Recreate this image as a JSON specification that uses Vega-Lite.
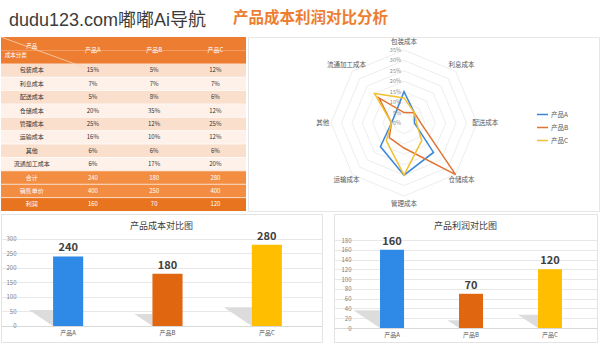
{
  "$schema": "https://vega.github.io/schema/vega-lite/v6.json",
  "padding": {"left": 0, "top": 10, "right": 0, "bottom": 0},
  "background": "white",
  "config": {"font": "Noto Sans CJK SC", "view": {"stroke": "#e3e3e3"}},
  "align": "none",
  "spacing": 1,
  "resolve": {"scale": {"color": "independent", "fill": "independent", "size": "independent"}, "legend": {"color": "independent", "fill": "independent"}},
  "vconcat": [
    {
      "resolve": {"scale": {"color": "independent", "fill": "independent"}, "legend": {"color": "independent", "fill": "independent"}},
      "hconcat": [
        {
          "width": 245,
          "height": 174,
          "view": {"stroke": null},
          "title": {"text": "dudu123.com嘟嘟Ai导航", "anchor": "start", "frame": "group", "dx": 8, "offset": -7, "baseline": "alphabetic", "font": "Liberation Sans, Noto Sans CJK SC", "fontSize": 18, "fontWeight": "normal", "color": "#3b3b3b"},
          "layer": [
            {
              "data": {"values": [
                {"r": "h1", "t": "head"}, {"r": "h2", "t": "head"},
                {"r": "包装成本", "t": "a"}, {"r": "利息成本", "t": "b"}, {"r": "配送成本", "t": "a"}, {"r": "仓储成本", "t": "b"},
                {"r": "管理成本", "t": "a"}, {"r": "运输成本", "t": "b"}, {"r": "其他", "t": "a"}, {"r": "流通加工成本", "t": "b"},
                {"r": "合计", "t": "tot"}, {"r": "销售单价", "t": "tot"}, {"r": "利润", "t": "pro"}
              ]},
              "mark": {"type": "rect"},
              "encoding": {
                "y": {"field": "r", "type": "nominal", "scale": {"type": "band", "domain": ["h1","h2","包装成本","利息成本","配送成本","仓储成本","管理成本","运输成本","其他","流通加工成本","合计","销售单价","利润"], "paddingInner": 0, "paddingOuter": 0}, "axis": null},
                "fill": {"field": "t", "type": "nominal", "scale": {"domain": ["head","a","b","tot","pro"], "range": ["#ED7D31","#FADFCC","#FDF1E9","#F28D41","#E9741F"]}, "legend": null}
              }
            },
            {
              "data": {"values": [
                {"r": "利息成本"}, {"r": "配送成本"}, {"r": "仓储成本"}, {"r": "管理成本"}, {"r": "运输成本"}, {"r": "其他"}, {"r": "流通加工成本"}, {"r": "合计"}, {"r": "销售单价"}, {"r": "利润"}
              ]},
              "mark": {"type": "rule", "color": "#ffffff", "strokeWidth": 0.8, "opacity": 0.8},
              "encoding": {
                "y": {"field": "r", "type": "nominal", "bandPosition": 0, "scale": {"type": "band", "domain": ["h1","h2","包装成本","利息成本","配送成本","仓储成本","管理成本","运输成本","其他","流通加工成本","合计","销售单价","利润"], "paddingInner": 0, "paddingOuter": 0}, "axis": null}
              }
            },
            {
              "data": {"values": [{"c": "lab", "c2": "A", "r": "h1", "r2": "包装成本"}]},
              "mark": {"type": "rule", "color": "#fbd3b8", "strokeWidth": 0.8},
              "encoding": {
                "x": {"field": "c", "type": "nominal", "bandPosition": 0, "scale": {"type": "band", "domain": ["lab","A","B","C"], "paddingInner": 0, "paddingOuter": 0}, "axis": null},
                "x2": {"field": "c2"},
                "y": {"field": "r", "type": "nominal", "bandPosition": 0, "scale": {"type": "band", "domain": ["h1","h2","包装成本","利息成本","配送成本","仓储成本","管理成本","运输成本","其他","流通加工成本","合计","销售单价","利润"], "paddingInner": 0, "paddingOuter": 0}, "axis": null},
                "y2": {"field": "r2"}
              }
            },
            {
              "data": {"values": [{"c": "A", "r": "h1", "s": "产品A"}, {"c": "B", "r": "h1", "s": "产品B"}, {"c": "C", "r": "h1", "s": "产品C"}]},
              "mark": {"type": "text", "fontSize": 6, "color": "#ffffff", "baseline": "middle"},
              "encoding": {
                "x": {"field": "c", "type": "nominal", "scale": {"type": "band", "domain": ["lab","A","B","C"], "paddingInner": 0, "paddingOuter": 0}, "axis": null},
                "y": {"field": "r", "type": "nominal", "bandPosition": 1, "scale": {"type": "band", "domain": ["h1","h2","包装成本","利息成本","配送成本","仓储成本","管理成本","运输成本","其他","流通加工成本","合计","销售单价","利润"], "paddingInner": 0, "paddingOuter": 0}, "axis": null},
                "text": {"field": "s"}
              }
            },
            {
              "data": {"values": [{"c": "lab", "r": "h1", "s": "产品"}]},
              "mark": {"type": "text", "fontSize": 5.5, "color": "#ffffff", "baseline": "middle", "dy": 2},
              "encoding": {
                "x": {"field": "c", "type": "nominal", "scale": {"type": "band", "domain": ["lab","A","B","C"], "paddingInner": 0, "paddingOuter": 0}, "axis": null},
                "y": {"field": "r", "type": "nominal", "scale": {"type": "band", "domain": ["h1","h2","包装成本","利息成本","配送成本","仓储成本","管理成本","运输成本","其他","流通加工成本","合计","销售单价","利润"], "paddingInner": 0, "paddingOuter": 0}, "axis": null},
                "text": {"field": "s"}
              }
            },
            {
              "data": {"values": [{"c": "lab", "r": "h2", "s": "成本分类"}]},
              "mark": {"type": "text", "fontSize": 5.5, "color": "#ffffff", "baseline": "middle", "dy": -2, "dx": -16},
              "encoding": {
                "x": {"field": "c", "type": "nominal", "scale": {"type": "band", "domain": ["lab","A","B","C"], "paddingInner": 0, "paddingOuter": 0}, "axis": null},
                "y": {"field": "r", "type": "nominal", "scale": {"type": "band", "domain": ["h1","h2","包装成本","利息成本","配送成本","仓储成本","管理成本","运输成本","其他","流通加工成本","合计","销售单价","利润"], "paddingInner": 0, "paddingOuter": 0}, "axis": null},
                "text": {"field": "s"}
              }
            },
            {
              "data": {"values": [
                {"r": "包装成本", "c": "lab", "s": "包装成本"}, {"r": "包装成本", "c": "A", "s": "15%"}, {"r": "包装成本", "c": "B", "s": "5%"}, {"r": "包装成本", "c": "C", "s": "12%"},
                {"r": "利息成本", "c": "lab", "s": "利息成本"}, {"r": "利息成本", "c": "A", "s": "7%"}, {"r": "利息成本", "c": "B", "s": "7%"}, {"r": "利息成本", "c": "C", "s": "7%"},
                {"r": "配送成本", "c": "lab", "s": "配送成本"}, {"r": "配送成本", "c": "A", "s": "5%"}, {"r": "配送成本", "c": "B", "s": "8%"}, {"r": "配送成本", "c": "C", "s": "6%"},
                {"r": "仓储成本", "c": "lab", "s": "仓储成本"}, {"r": "仓储成本", "c": "A", "s": "20%"}, {"r": "仓储成本", "c": "B", "s": "35%"}, {"r": "仓储成本", "c": "C", "s": "12%"},
                {"r": "管理成本", "c": "lab", "s": "管理成本"}, {"r": "管理成本", "c": "A", "s": "25%"}, {"r": "管理成本", "c": "B", "s": "12%"}, {"r": "管理成本", "c": "C", "s": "25%"},
                {"r": "运输成本", "c": "lab", "s": "运输成本"}, {"r": "运输成本", "c": "A", "s": "16%"}, {"r": "运输成本", "c": "B", "s": "10%"}, {"r": "运输成本", "c": "C", "s": "12%"},
                {"r": "其他", "c": "lab", "s": "其他"}, {"r": "其他", "c": "A", "s": "6%"}, {"r": "其他", "c": "B", "s": "6%"}, {"r": "其他", "c": "C", "s": "6%"},
                {"r": "流通加工成本", "c": "lab", "s": "流通加工成本"}, {"r": "流通加工成本", "c": "A", "s": "6%"}, {"r": "流通加工成本", "c": "B", "s": "17%"}, {"r": "流通加工成本", "c": "C", "s": "20%"}
              ]},
              "mark": {"type": "text", "fontSize": 6, "baseline": "middle", "color": "#333333"},
              "encoding": {
                "x": {"field": "c", "type": "nominal", "scale": {"type": "band", "domain": ["lab","A","B","C"], "paddingInner": 0, "paddingOuter": 0}, "axis": null},
                "y": {"field": "r", "type": "nominal", "scale": {"type": "band", "domain": ["h1","h2","包装成本","利息成本","配送成本","仓储成本","管理成本","运输成本","其他","流通加工成本","合计","销售单价","利润"], "paddingInner": 0, "paddingOuter": 0}, "axis": null},
                "text": {"field": "s"}
              }
            },
            {
              "data": {"values": [
                {"r": "合计", "c": "lab", "s": "合计"}, {"r": "合计", "c": "A", "s": "240"}, {"r": "合计", "c": "B", "s": "180"}, {"r": "合计", "c": "C", "s": "280"},
                {"r": "销售单价", "c": "lab", "s": "销售单价"}, {"r": "销售单价", "c": "A", "s": "400"}, {"r": "销售单价", "c": "B", "s": "250"}, {"r": "销售单价", "c": "C", "s": "400"},
                {"r": "利润", "c": "lab", "s": "利润"}, {"r": "利润", "c": "A", "s": "160"}, {"r": "利润", "c": "B", "s": "70"}, {"r": "利润", "c": "C", "s": "120"}
              ]},
              "mark": {"type": "text", "fontSize": 6, "baseline": "middle", "color": "#ffffff"},
              "encoding": {
                "x": {"field": "c", "type": "nominal", "scale": {"type": "band", "domain": ["lab","A","B","C"], "paddingInner": 0, "paddingOuter": 0}, "axis": null},
                "y": {"field": "r", "type": "nominal", "scale": {"type": "band", "domain": ["h1","h2","包装成本","利息成本","配送成本","仓储成本","管理成本","运输成本","其他","流通加工成本","合计","销售单价","利润"], "paddingInner": 0, "paddingOuter": 0}, "axis": null},
                "text": {"field": "s"}
              }
            }
          ]
        },
        {
          "width": 351,
          "height": 174,
          "view": {"stroke": "#e6e6e6"},
          "title": {"text": "产品成本利润对比分析", "anchor": "start", "frame": "group", "dx": -15, "offset": -1, "baseline": "alphabetic", "fontSize": 15.5, "fontWeight": "bold", "color": "#ED7D31"},
          "layer": [
            {
              "data": {"values": [
                {"lv": 5, "k": [0,1,2,3,4,5,6,7]}, {"lv": 10, "k": [0,1,2,3,4,5,6,7]}, {"lv": 15, "k": [0,1,2,3,4,5,6,7]},
                {"lv": 20, "k": [0,1,2,3,4,5,6,7]}, {"lv": 25, "k": [0,1,2,3,4,5,6,7]}, {"lv": 30, "k": [0,1,2,3,4,5,6,7]}, {"lv": 35, "k": [0,1,2,3,4,5,6,7]}
              ]},
              "transform": [
                {"flatten": ["k"]},
                {"calculate": "datum.lv*sin(datum.k*PI/4)", "as": "x"},
                {"calculate": "datum.lv*cos(datum.k*PI/4)", "as": "y"}
              ],
              "mark": {"type": "line", "interpolate": "linear-closed", "color": "#e8e8e8", "strokeWidth": 0.8},
              "encoding": {
                "x": {"field": "x", "type": "quantitative", "scale": {"domain": [-74.8, 93.5], "nice": false, "zero": false}, "axis": null},
                "y": {"field": "y", "type": "quantitative", "scale": {"domain": [-42.2, 41.2], "nice": false, "zero": false}, "axis": null},
                "detail": {"field": "lv"},
                "order": {"field": "k"}
              }
            },
            {
              "data": {"values": [
                {"cat": "包装成本", "i": 0, "p": "产品A", "v": 15}, {"cat": "利息成本", "i": 1, "p": "产品A", "v": 7}, {"cat": "配送成本", "i": 2, "p": "产品A", "v": 5}, {"cat": "仓储成本", "i": 3, "p": "产品A", "v": 20},
                {"cat": "管理成本", "i": 4, "p": "产品A", "v": 25}, {"cat": "运输成本", "i": 5, "p": "产品A", "v": 16}, {"cat": "其他", "i": 6, "p": "产品A", "v": 6}, {"cat": "流通加工成本", "i": 7, "p": "产品A", "v": 6},
                {"cat": "包装成本", "i": 0, "p": "产品B", "v": 5}, {"cat": "利息成本", "i": 1, "p": "产品B", "v": 7}, {"cat": "配送成本", "i": 2, "p": "产品B", "v": 8}, {"cat": "仓储成本", "i": 3, "p": "产品B", "v": 35},
                {"cat": "管理成本", "i": 4, "p": "产品B", "v": 12}, {"cat": "运输成本", "i": 5, "p": "产品B", "v": 10}, {"cat": "其他", "i": 6, "p": "产品B", "v": 6}, {"cat": "流通加工成本", "i": 7, "p": "产品B", "v": 17},
                {"cat": "包装成本", "i": 0, "p": "产品C", "v": 12}, {"cat": "利息成本", "i": 1, "p": "产品C", "v": 7}, {"cat": "配送成本", "i": 2, "p": "产品C", "v": 6}, {"cat": "仓储成本", "i": 3, "p": "产品C", "v": 12},
                {"cat": "管理成本", "i": 4, "p": "产品C", "v": 25}, {"cat": "运输成本", "i": 5, "p": "产品C", "v": 12}, {"cat": "其他", "i": 6, "p": "产品C", "v": 6}, {"cat": "流通加工成本", "i": 7, "p": "产品C", "v": 20}
              ]},
              "transform": [
                {"calculate": "datum.v*sin(datum.i*PI/4)", "as": "x"},
                {"calculate": "datum.v*cos(datum.i*PI/4)", "as": "y"}
              ],
              "mark": {"type": "line", "interpolate": "linear-closed", "strokeWidth": 1.5},
              "encoding": {
                "x": {"field": "x", "type": "quantitative", "scale": {"domain": [-74.8, 93.5], "nice": false, "zero": false}, "axis": null},
                "y": {"field": "y", "type": "quantitative", "scale": {"domain": [-42.2, 41.2], "nice": false, "zero": false}, "axis": null},
                "order": {"field": "i"},
                "color": {"field": "p", "type": "nominal", "scale": {"domain": ["产品A","产品B","产品C"], "range": ["#3a86d8","#e07434","#f3c030"]},
                  "legend": {"orient": "none", "legendX": 288, "legendY": 71, "title": null, "labelFontSize": 6.5, "labelColor": "#595959", "symbolType": "stroke", "symbolStrokeWidth": 1.5, "symbolSize": 120, "rowPadding": 3, "labelOffset": 2}}
              }
            },
            {
              "data": {"values": [
                {"lv": 0, "s": "0%"}, {"lv": 5, "s": "5%"}, {"lv": 10, "s": "10%"}, {"lv": 15, "s": "15%"}, {"lv": 20, "s": "20%"}, {"lv": 25, "s": "25%"}, {"lv": 30, "s": "30%"}, {"lv": 35, "s": "35%"}
              ]},
              "mark": {"type": "text", "fontSize": 5.5, "color": "#8c8c8c", "align": "right", "baseline": "middle", "dx": -3},
              "encoding": {
                "x": {"datum": 0, "type": "quantitative", "scale": {"domain": [-74.8, 93.5], "nice": false, "zero": false}, "axis": null},
                "y": {"field": "lv", "type": "quantitative", "scale": {"domain": [-42.2, 41.2], "nice": false, "zero": false}, "axis": null},
                "text": {"field": "s"}
              }
            },
            {
              "data": {"values": [
                {"cat": "包装成本", "i": 0}, {"cat": "利息成本", "i": 1}, {"cat": "配送成本", "i": 2}, {"cat": "仓储成本", "i": 3},
                {"cat": "管理成本", "i": 4}, {"cat": "运输成本", "i": 5}, {"cat": "其他", "i": 6}, {"cat": "流通加工成本", "i": 7}
              ]},
              "transform": [
                {"calculate": "39*sin(datum.i*PI/4)", "as": "x"},
                {"calculate": "39*cos(datum.i*PI/4)", "as": "y"}
              ],
              "mark": {"type": "text", "fontSize": 6.5, "color": "#595959", "align": "center", "baseline": "middle"},
              "encoding": {
                "x": {"field": "x", "type": "quantitative", "scale": {"domain": [-74.8, 93.5], "nice": false, "zero": false}, "axis": null},
                "y": {"field": "y", "type": "quantitative", "scale": {"domain": [-42.2, 41.2], "nice": false, "zero": false}, "axis": null},
                "text": {"field": "cat"}
              }
            }
          ]
        }
      ],
      "spacing": 2,
      "bounds": "flush",
      "align": "none"
    },
    {
      "resolve": {"scale": {"color": "independent", "fill": "independent", "size": "independent"}, "legend": {"color": "independent", "fill": "independent", "size": "independent"}},
      "hconcat": [
        {
          "width": 321,
          "height": 128,
          "view": {"stroke": "#e3e3e3"},
          "title": {"text": "产品成本对比图", "frame": "group", "anchor": "middle", "offset": -17, "fontSize": 9, "fontWeight": "normal", "color": "#404040"},
          "data": {"values": [{"p": "产品A", "v": 240}, {"p": "产品B", "v": 180}, {"p": "产品C", "v": 280}]},
          "encoding": {
            "x": {"field": "p", "type": "nominal", "scale": {"type": "band", "paddingInner": 0.697, "paddingOuter": 0.464, "align": 0.565},
              "axis": {"title": null, "labelAngle": 0, "offset": -16, "labelFontSize": 6, "labelColor": "#595959", "ticks": false, "domainColor": "#d9d9d9", "labelPadding": 3}},
            "y": {"field": "v", "type": "quantitative", "scale": {"domain": [-55.2, 386.2], "nice": false, "zero": false},
              "axis": {"title": null, "values": [0,50,100,150,200,250,300], "offset": -17, "labelFontSize": 6, "labelColor": "#7f7f7f", "ticks": false, "domain": false, "gridColor": "#e8e8e8", "labelPadding": 2}}
          },
          "layer": [
            {
              "mark": {"type": "point", "shape": "M -1.5 -1 L 0 -1 L 0 0 Z", "filled": true, "color": "#dcdcdc", "opacity": 1, "strokeWidth": 0},
              "encoding": {
                "x": {"field": "p", "type": "nominal", "bandPosition": 0},
                "y": {"datum": 0},
                "size": {"field": "v", "type": "quantitative", "scale": {"type": "pow", "exponent": 2, "domain": [0, 300], "range": [0, 1600]}, "legend": null}
              }
            },
            {"mark": {"type": "bar"}, "encoding": {"fill": {"field": "p", "type": "nominal", "scale": {"domain": ["产品A","产品B","产品C"], "range": ["#2f89e6","#e0670f","#ffbf00"]}, "legend": null}}},
            {"mark": {"type": "text", "baseline": "bottom", "dy": -3, "fontSize": 11, "fontWeight": "bold", "color": "#404040"}, "encoding": {"text": {"field": "v"}}}
          ]
        },
        {
          "width": 263,
          "height": 128,
          "view": {"stroke": "#e3e3e3"},
          "title": {"text": "产品利润对比图", "frame": "group", "anchor": "middle", "offset": -17, "fontSize": 9, "fontWeight": "normal", "color": "#404040"},
          "data": {"values": [{"p": "产品A", "v": 160}, {"p": "产品B", "v": 70}, {"p": "产品C", "v": 120}]},
          "encoding": {
            "x": {"field": "p", "type": "nominal", "scale": {"type": "band", "paddingInner": 0.696, "paddingOuter": 0.513, "align": 0.568},
              "axis": {"title": null, "labelAngle": 0, "offset": -14, "labelFontSize": 6, "labelColor": "#595959", "ticks": false, "domainColor": "#d9d9d9", "labelPadding": 3}},
            "y": {"field": "v", "type": "quantitative", "scale": {"domain": [-28.6, 233.2], "nice": false, "zero": false},
              "axis": {"title": null, "values": [0,20,40,60,80,100,120,140,160,180], "offset": -19, "labelFontSize": 6, "labelColor": "#7f7f7f", "ticks": false, "domain": false, "gridColor": "#e8e8e8", "labelPadding": 2}}
          },
          "layer": [
            {
              "mark": {"type": "point", "shape": "M -1.5 -1 L 0 -1 L 0 0 Z", "filled": true, "color": "#dcdcdc", "opacity": 1, "strokeWidth": 0},
              "encoding": {
                "x": {"field": "p", "type": "nominal", "bandPosition": 0},
                "y": {"datum": 0},
                "size": {"field": "v", "type": "quantitative", "scale": {"type": "pow", "exponent": 2, "domain": [0, 180], "range": [0, 1600]}, "legend": null}
              }
            },
            {"mark": {"type": "bar"}, "encoding": {"fill": {"field": "p", "type": "nominal", "scale": {"domain": ["产品A","产品B","产品C"], "range": ["#2f89e6","#e0670f","#ffbf00"]}, "legend": null}}},
            {"mark": {"type": "text", "baseline": "bottom", "dy": -3, "fontSize": 11, "fontWeight": "bold", "color": "#404040"}, "encoding": {"text": {"field": "v"}}}
          ]
        }
      ],
      "spacing": 12,
      "bounds": "flush",
      "align": "none"
    }
  ]
}
